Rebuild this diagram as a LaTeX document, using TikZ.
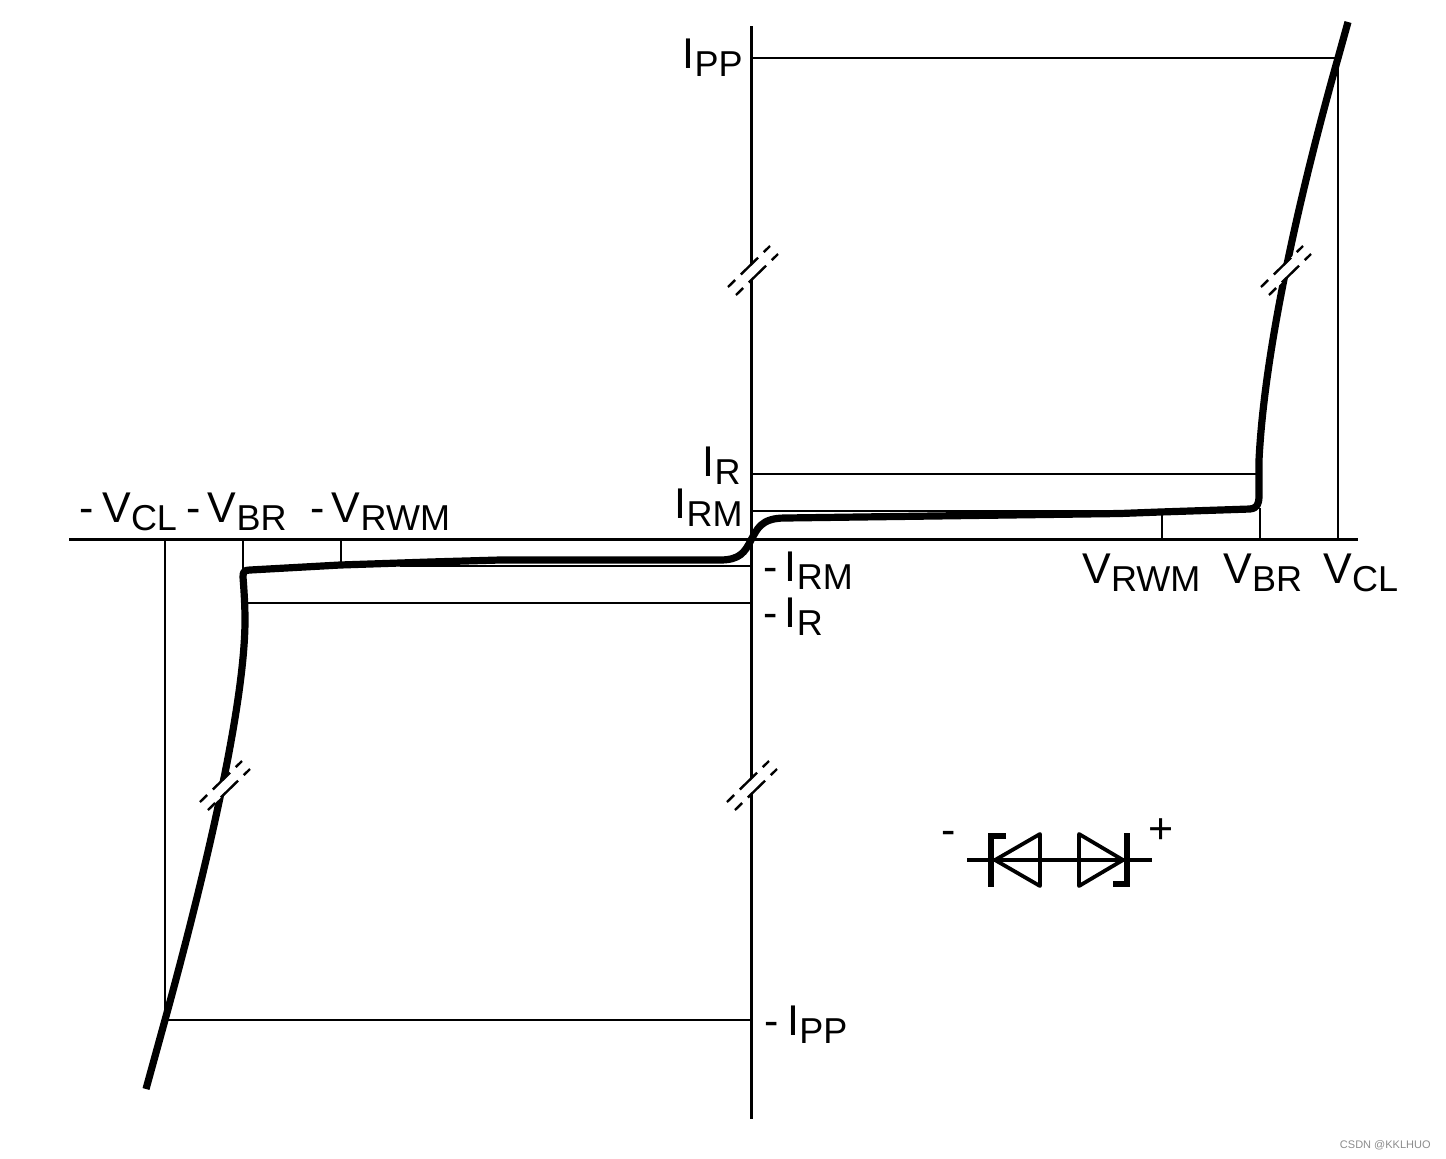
\documentclass[tikz,border=0pt]{standalone}
\usepackage{fontspec}
\setmainfont{Liberation Sans}
\newcommand{\sublabel}[2]{\fontsize{21.5}{24}\selectfont #1\raisebox{-4pt}{\fontsize{18}{20}\selectfont #2}}
\tikzset{
  thinline/.style={line width=1pt},
  axisline/.style={line width=1.5pt},
  ivcurve/.style={line width=3.6pt,line join=round},
  diodeline/.style={line width=1.9pt,line join=round},
  bracketline/.style={line width=3pt},
  txt/.style={inner sep=0pt},
  breakmark/.pic={
    \fill[white] (-25,-17) -- (17,24) -- (25,16) -- (-17,-25) -- cycle;
    \draw[line width=1.2pt,dash pattern=on 5pt off 4pt on 12pt off 4pt on 5pt off 100pt] (-25,-17) -- (17,24);
    \draw[line width=1.2pt,dash pattern=on 5pt off 4pt on 12pt off 4pt on 5pt off 100pt] (-17,-25) -- (25,16);
  }
}
\begin{document}
\begin{tikzpicture}[x=0.5pt,y=0.5pt,yscale=-1,xscale=1]
\useasboundingbox (0,0) rectangle (1446,1158);

%Guide lines
\draw[thinline] (751,58) -- (1338,58) -- (1338,539);
\draw[thinline] (751,474) -- (1259,474);
\draw[thinline] (751,511) -- (1100,511);
\draw[thinline] (1162,514) -- (1162,539);
\draw[thinline] (1260,508) -- (1260,539);
\draw[thinline] (341,539) -- (341,565);
\draw[thinline] (243,539) -- (243,570);
\draw[thinline] (751,566) -- (400,566);
\draw[thinline] (751,603) -- (245,603);
\draw[thinline] (165,539) -- (165,1020) -- (751,1020);

%Axes
\draw[axisline] (751,26) -- (751,1119);
\draw[axisline] (69,539) -- (1358,539);

%Shape: characteristic curve
\draw[ivcurve] (1348,22) -- (1338,58) .. controls (1305,175) and (1265,340) .. (1259,460) -- (1259,495) .. controls (1259,505) and (1257,508) .. (1250,509) -- (1160,512) -- (1120,513.5) -- (785,518) .. controls (760,518) and (757,530) .. (751,540) .. controls (745,552) and (740,560) .. (720,560) -- (500,560) -- (430,562) -- (340,565) -- (250,570) .. controls (244,570) and (243,572) .. (243,577) .. controls (244,590) and (245,605) .. (245,620) .. controls (245,675) and (228,790) .. (165,1020) -- (146,1089);

%Axis breaks
\pic at (1286,270) {breakmark};
\pic at (753,270) {breakmark};
\pic at (225,785) {breakmark};
\pic at (752,785) {breakmark};

%Shape: diode symbol
\draw[diodeline] (967,860) -- (1152,860);
\draw[diodeline] (995,860) -- (1040,834) -- (1040,886) -- cycle;
\draw[diodeline] (1123,860) -- (1079,834) -- (1079,886) -- cycle;
\draw[bracketline] (1006,836) -- (991,836) -- (991,887);
\draw[bracketline] (1113,884) -- (1127,884) -- (1127,833);

% Text Node
\node[txt,anchor=base east] (lblIPP) at (743,68) {\sublabel{I}{PP}};
\node[txt,anchor=base east] (lblIR) at (741,476) {\sublabel{I}{R}};
\node[txt,anchor=base east] (lblIRM) at (743,518) {\sublabel{I}{RM}};
\node[txt,anchor=base west] (lblNegIRM) at (763,581) {\sublabel{-\hspace{.17em}I}{RM}};
\node[txt,anchor=base west] (lblNegIR) at (763,627) {\sublabel{-\hspace{.17em}I}{R}};
\node[txt,anchor=base west] (lblNegIPP) at (764,1035) {\sublabel{-\hspace{.2em}I}{PP}};
\node[txt,anchor=base west] (lblNegVCL) at (79,522) {\sublabel{-\hspace{.2em}V}{CL}};
\node[txt,anchor=base west] (lblNegVBR) at (186,522) {\sublabel{-\hspace{.17em}V}{BR}};
\node[txt,anchor=base west] (lblNegVRWM) at (310,522) {\sublabel{-\hspace{.17em}V}{RWM}};
\node[txt,anchor=base west] (lblVRWM) at (1082,583) {\sublabel{V}{RWM}};
\node[txt,anchor=base west] (lblVBR) at (1223,583) {\sublabel{V}{BR}};
\node[txt,anchor=base west] (lblVCL) at (1323,583) {\sublabel{V}{CL}};
\node[txt] (lblMinus) at (949,838) {\fontsize{21.5}{24}\selectfont -};
\node[txt] (lblPlus) at (1161,831) {\fontsize{21.5}{24}\selectfont +};
\node[txt,anchor=base east,text=black!45] (lblMark) at (1431,1148) {\fontsize{5.5}{7}\selectfont CSDN @KKLHUO};
\end{tikzpicture}
\end{document}
